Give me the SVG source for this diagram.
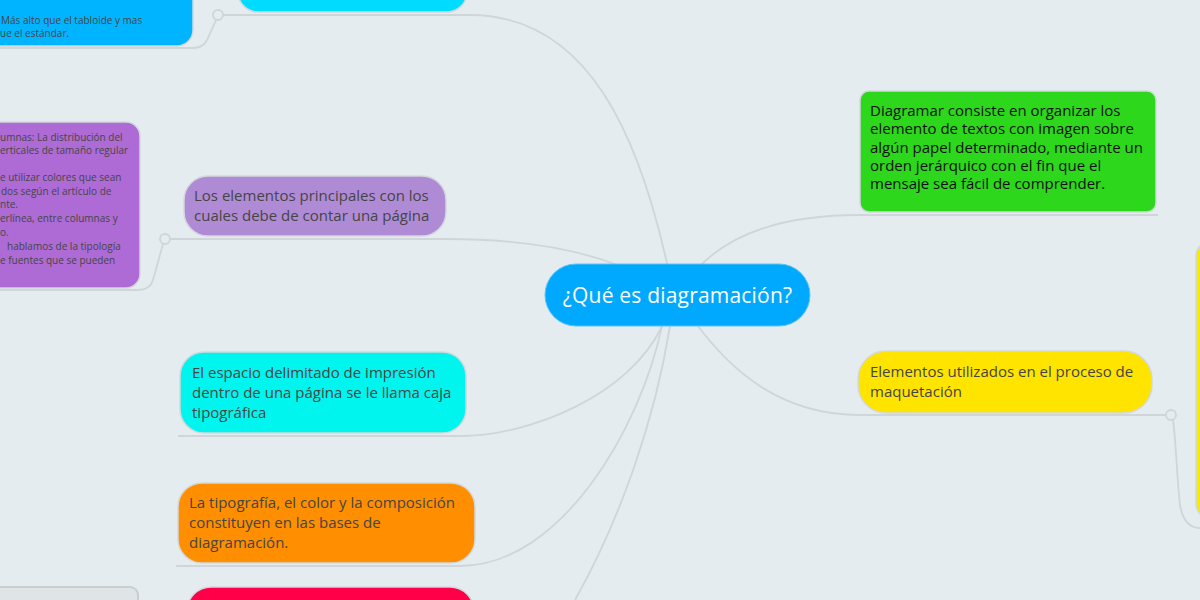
<svg xmlns="http://www.w3.org/2000/svg" width="1200" height="600" viewBox="0 0 1200 600">
<style>
.bg{fill:#e5ecf0}
.con{fill:none;stroke:#cfd5d9;stroke-width:1.8}
.knob{fill:#e5ecf0;stroke:#cfd5d9;stroke-width:1.8}
.node{stroke:#d2d8dc;stroke-width:1.5}
.t{font-family:"Open Sans","Noto Sans",sans-serif;font-size:15px;fill:#454545}
.ts{font-family:"Open Sans","Noto Sans",sans-serif;font-size:10px;fill:#454545}
.tc{font-family:"Open Sans","Noto Sans",sans-serif;font-size:21px;letter-spacing:0.2px;fill:#ffffff}
.tb{font-family:"Open Sans","Noto Sans",sans-serif;font-size:15px;fill:#111111}
</style>
<rect class="bg" x="0" y="0" width="1200" height="600"/>
<g id="connectors">
<path class="con" d="M668 268 C640 140 590 15 470 15 L223 15"/>
<path class="con" d="M216 20 L207 40 Q203 48 193 48 L0 48"/>
<path class="con" d="M640 275 C600 255 540 239 446 239 L170 239"/>
<path class="con" d="M163 244 L153 280 Q150 290 138 290 L0 290"/>
<path class="con" d="M662 326 C630 395 530 436 460 436 L178 436"/>
<path class="con" d="M662 326 C640 430 560 566 460 566 L176 566"/>
<path class="con" d="M670 326 C655 420 620 520 575 600"/>
<path class="con" d="M700 266 C730 235 780 215 860 215 L1158 215"/>
<path class="con" d="M695 322 C730 370 780 415 860 415 L1166 415"/>
<path class="con" d="M1173 420 C1176 440 1177 480 1180 505 Q1184 528 1200 528"/>
<circle class="knob" cx="218" cy="15" r="5"/>
<circle class="knob" cx="165" cy="239" r="5"/>
<circle class="knob" cx="1171" cy="415" r="5"/>
</g>
<g id="node-top-cyan">
<rect class="node" x="238" y="-30" width="229" height="42" rx="20" fill="#00dcff"/>
</g>
<g id="node-top-blue">
<rect class="node" x="-20" y="-40" width="213" height="86" rx="16" fill="#00b4ff"/>
<text class="ts" x="1" y="24">Más alto que el tabloide y mas</text>
<text class="ts" x="0" y="37">ue el estándar.</text>
</g>
<g id="node-left-purple">
<rect class="node" x="-20" y="122" width="160" height="166" rx="14" fill="#ae6bd5"/>
<text class="ts" x="0" y="141">umnas: La distribución del</text>
<text class="ts" x="0" y="154">erticales de tamaño regular</text>
<text class="ts" x="0" y="181">e utilizar colores que sean</text>
<text class="ts" x="1" y="195">dos según el artículo de</text>
<text class="ts" x="0" y="208">nte.</text>
<text class="ts" x="0" y="222">erlínea, entre columnas y</text>
<text class="ts" x="0" y="236">o.</text>
<text class="ts" x="7" y="250">hablamos de la tipología</text>
<text class="ts" x="0" y="264">e fuentes que se pueden</text>
</g>
<g id="node-elementos">
<rect class="node" x="184" y="176" width="262" height="60" rx="24" fill="#b08bd5"/>
<text class="t" x="194" y="201">Los elementos principales con los</text>
<text class="t" x="194" y="221">cuales debe de contar una página</text>
</g>
<g id="node-espacio">
<rect class="node" x="180" y="352" width="286" height="81" rx="24" fill="#00f5ee"/>
<text class="t" x="192" y="378">El espacio delimitado de impresión</text>
<text class="t" x="192" y="398">dentro de una página se le llama caja</text>
<text class="t" x="192" y="418">tipográfica</text>
</g>
<g id="node-tipografia">
<rect class="node" x="178" y="483" width="297" height="80" rx="24" fill="#ff8f00"/>
<text class="t" x="189" y="508">La tipografía, el color y la composición</text>
<text class="t" x="189" y="528">constituyen en las bases de</text>
<text class="t" x="189" y="548">diagramación.</text>
</g>
<g id="node-red">
<rect class="node" x="187" y="587" width="287" height="60" rx="24" fill="#ff0048"/>
</g>
<g id="node-gray">
<rect x="-20" y="587" width="158" height="60" rx="8" fill="#dfe4e7" stroke="#c9ced1" stroke-width="2"/>
</g>
<g id="node-center">
<rect x="545" y="264" width="265" height="62" rx="31" fill="#00a9fe" stroke="#5cc4f5" stroke-width="1"/>
<text class="tc" x="677.5" y="303" text-anchor="middle">¿Qué es diagramación?</text>
</g>
<g id="node-green">
<rect class="node" x="860" y="91" width="296" height="121" rx="9" fill="#2cd71c"/>
<text class="tb" x="870" y="116">Diagramar consiste en organizar los</text>
<text class="tb" x="870" y="134">elemento de textos con imagen sobre</text>
<text class="tb" x="870" y="153">algún papel determinado, mediante un</text>
<text class="tb" x="870" y="171">orden jerárquico con el fin que el</text>
<text class="tb" x="870" y="189">mensaje sea fácil de comprender.</text>
</g>
<g id="node-yellow">
<rect class="node" x="858" y="351" width="294" height="62" rx="28" fill="#ffe400"/>
<text class="t" x="870" y="377">Elementos utilizados en el proceso de</text>
<text class="t" x="870" y="397">maquetación</text>
</g>
<g id="node-yellow-big">
<rect class="node" x="1196" y="242" width="40" height="276" rx="14" fill="#f5ec00"/>
</g>
</svg>
